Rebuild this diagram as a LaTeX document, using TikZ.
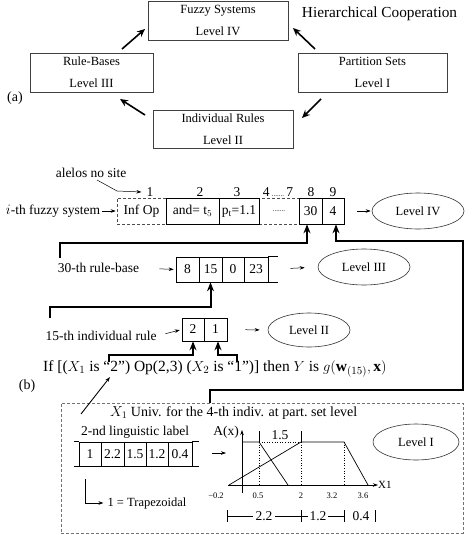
\documentclass[tikz,border=0pt]{standalone}
\usepackage{fontspec}
\setmainfont{Liberation Serif}
\usetikzlibrary{arrows.meta,shapes.geometric,calc}
\begin{document}
\begin{tikzpicture}[x=1pt,y=-1pt,
  lvbox/.style={draw=black!75, line width=0.8pt, minimum width=#1, minimum height=39, align=center, inner sep=0, font=\fontsize{12.5}{22}\selectfont},
  bigarr/.style={-{Stealth[length=8pt,width=7pt]}, line width=1.6pt},
  conn/.style={-{Stealth[length=9pt,width=7pt]}, line width=2pt},
  smallarr/.style={-{Stealth[length=5pt,width=3.5pt]}, line width=0.5pt},
  cell/.style={draw, line width=0.6pt, minimum height=26, inner sep=0, font=\fontsize{13.5}{14}\selectfont},
  dcell/.style={cell, draw=black!70, dash pattern=on 3pt off 2pt},
  tcell/.style={draw, line width=0.6pt, minimum height=24, inner sep=0, font=\fontsize{13.5}{14}\selectfont},
  lvl/.style={ellipse, draw=black!80, line width=0.6pt, inner sep=0, font=\fontsize{12.5}{14}\selectfont},
  txt/.style={inner sep=0, font=\fontsize{13.5}{14}\selectfont},
  tick/.style={inner sep=0, font=\fontsize{8.5}{9}\selectfont},
  gline/.style={line width=0.7pt},
  dline/.style={line width=0.6pt, dotted}
]
\useasboundingbox (0,0) rectangle (474,535);

% ---------- (a) ----------
\node[lvbox=140] (FS) at (218,20.5) {Fuzzy Systems\\Level IV};
\node[lvbox=123] (RB) at (91.5,72.5) {Rule-Bases\\Level III};
\node[lvbox=149] (PS) at (372.5,72.5) {Partition Sets\\Level I};
\node[lvbox=140, minimum height=38] (IR) at (223,129) {Individual Rules\\Level II};
\node[txt, font=\fontsize{15.3}{16}\selectfont] (HC) at (379.5,14) {Hierarchical Cooperation};
\node[txt, font=\fontsize{14}{14}\selectfont] (la) at (15,98) {(a)};

\coordinate (a1s) at (122,49); \coordinate (a1e) at (145,29);
\coordinate (a2s) at (315,49); \coordinate (a2e) at (293,28);
\coordinate (a3s) at (321,99); \coordinate (a3e) at (302,118);
\coordinate (a4s) at (145,115); \coordinate (a4e) at (120,99);
\draw[bigarr] (a1s) -- (a1e);
\draw[bigarr] (a2s) -- (a2e);
\draw[bigarr] (a3s) -- (a3e);
\draw[bigarr] (a4s) -- (a4e);

% ---------- row: i-th fuzzy system ----------
\node[txt] (alel) at (91,173) {alelos no site};
\node[dcell, minimum width=49] (c1) at (141.5,211) {Inf Op};
\node[dcell, minimum width=40] (c4) at (279,211) {\fontsize{7}{7}\selectfont .......};
\node[cell, minimum width=53] (c2) at (192.5,211) {and= t$_5$};
\node[cell, minimum width=40] (c3) at (239,211) {p$_{\rm t}$=1.1};
\node[cell, minimum width=23] (c8) at (310.5,211) {30};
\node[cell, minimum width=22] (c9) at (333,211) {4};
\node[txt] (n1) at (150,192) {1};
\node[txt] (n2) at (200,192) {2};
\node[txt] (n3) at (237,192) {3};
\node[txt] (n4) at (278,192) {4\,{\fontsize{7}{7}\selectfont .......}\,7};
\node[txt] (n8) at (311,192) {8};
\node[txt] (n9) at (333,192) {9};
\node[txt] (ith) at (53,211) {$i$-th fuzzy system};
\node[lvl, minimum width=92, minimum height=36] (L4) at (418,211) {Level IV};

\coordinate (al0) at (97,180); \coordinate (al1) at (117,191);
\draw[smallarr] (al0) -- (al1) -- ($(n1.west)+(-5,0)$);
\draw[smallarr, shorten <=2pt, shorten >=1pt] (ith.east) -- (c1.west);
\draw[smallarr, shorten <=13pt, shorten >=1pt] (c9.east) -- (L4.west);

% ---------- row: rule base ----------
\node[tcell, minimum width=23, minimum height=25] (r1) at (187.5,269.5) {8};
\node[tcell, minimum width=23, minimum height=25] (r2) at (210.5,269.5) {15};
\node[tcell, minimum width=22, minimum height=25] (r3) at (233,269.5) {0};
\node[tcell, minimum width=24, minimum height=25] (r4) at (256,269.5) {23};
\draw[line width=0.6pt] (r4.north east) -- ++(10,0);
\draw[line width=0.6pt] (r4.south east) -- ++(10,0);
\node[txt] (rb30) at (98.5,268) {30-th rule-base};
\node[lvl, minimum width=92, minimum height=36] (L3) at (364,267) {Level III};
\draw[smallarr, shorten <=20pt, shorten >=2pt] (rb30.east) -- (r1.west);
\draw[smallarr, shorten <=22pt, shorten >=13pt] (r4.east) -- (L3.west);

% ---------- row: individual rule ----------
\node[tcell, minimum width=22, minimum height=23] (s1) at (193,329.5) {2};
\node[tcell, minimum width=23, minimum height=23] (s2) at (215.5,329.5) {1};
\node[txt] (ir15) at (101,336) {15-th individual rule};
\node[lvl, minimum width=82, minimum height=34] (L2) at (309,330) {Level II};
\draw[smallarr, shorten <=9pt, shorten >=2pt] (ir15.east) -- (s1.west);
\draw[smallarr, shorten <=18pt, shorten >=8pt] (s2.east) -- (L2.west);

\node[txt, font=\fontsize{15.5}{16}\selectfont, anchor=west] (form) at (43,369)
  {If [($X_1$ is “2”) Op(2,3) ($X_2$ is “1”)] then $Y$ is $g(\mathbf{w}_{(15)},\mathbf{x})$};
\node[txt, font=\fontsize{14}{14}\selectfont] (lb) at (27,386) {(b)};

% ---------- thick connectors ----------
\coordinate (k30) at (60,258);
\draw[conn] (k30) |- ($(c8.south)+(-3.5,19)$) -- ($(c8.south)+(-3.5,0)$);
\coordinate (kb) at (210,403);
\draw[conn] (kb) |- (463,390) |- ($(c9.south)+(3,17)$) -- ($(c9.south)+(3,0)$);
\coordinate (k15) at (50,318);
\draw[conn] (k15) |- ($(r2.south)+(0,25)$) -- (r2.south);
\coordinate (kf2) at (109,362);
\draw[conn] (kf2) |- ($(s1.south)+(0,14)$) -- (s1.south);
\coordinate (kf1) at (237,362);
\draw[conn] (kf1) |- ($(s2.south)+(2.5,14)$) -- ($(s2.south)+(2.5,0)$);

% ---------- Level I box ----------
\node[draw=black!55, dash pattern=on 3pt off 2pt, line width=0.7pt, minimum width=402, minimum height=130, inner sep=0] (LB) at (262,468) {};
\coordinate (dg1) at (81,414); \coordinate (dg2) at (110,377);
\draw[smallarr, line width=0.9pt] (dg1) -- (dg2);
\node[txt, font=\fontsize{14}{15}\selectfont, anchor=west] (univ) at (110,413) {$X_1$ Univ. for the 4-th indiv. at part.\ set level};
\node[txt] (ling) at (135,432) {2-nd linguistic label};

\node[tcell, minimum width=22] (t1) at (90,454) {1};
\node[tcell, minimum width=23] (t2) at (112.5,454) {2.2};
\node[tcell, minimum width=22] (t3) at (135,454) {1.5};
\node[tcell, minimum width=22] (t4) at (157,454) {1.2};
\node[tcell, minimum width=24] (t5) at (180,454) {0.4};
\draw[line width=0.6pt] (t1.north west) -- ++(-5,0);
\draw[line width=0.6pt] (t1.south west) -- ++(-5,0);
\draw[line width=0.6pt] (t5.north east) -- ++(7,0);
\draw[line width=0.6pt] (t5.south east) -- ++(7,0);

\node[txt, font=\fontsize{12.5}{14}\selectfont] (trap) at (147,503) {1 = Trapezoidal};
\coordinate (tz0) at (85,479);
\draw[smallarr, shorten >=4pt] (tz0) |- (trap.west);

\coordinate (ga0) at (212,453); \coordinate (ga1) at (226,453);
\draw[smallarr] (ga0) -- (ga1);

% graph
\draw[gline, -{Stealth[length=5pt,width=3.5pt]}] (242,493) -- (242,430);
\draw[gline, -{Stealth[length=5pt,width=3.5pt]}] (228,485) -- (378,485);
\node[tick, font=\fontsize{11}{12}\selectfont, anchor=west] (X1) at (378,485) {X1};
\node[txt] (Ax) at (226,432) {A(x)};
\draw[gline] (242,442) -- (259,442) -- (288,485);
\draw[gline] (229,485) -- (301,442) -- (344,442) -- (368,485);
\draw[dline] (259,442) -- (301,442);
\draw[dline] (259,442) -- (259,485);
\draw[dline] (301,442) -- (301,485);
\draw[dline] (344,442) -- (344,485);
\draw[gline] (259,431) -- (259,442);
\draw[gline] (301,431) -- (301,442);
\node[txt] (v15) at (280,435) {1.5};
\node[tick] (tm02) at (216,496) {−0.2};
\node[tick] (t05) at (258,496) {0.5};
\node[tick] (t2v) at (301,496) {2};
\node[tick] (t32) at (332,496) {3.2};
\node[tick] (t36) at (363,496) {3.6};
% dimension line
\draw[gline] (227,516) -- (344,516);
\foreach \xx in {227,301,344,375} \draw[gline] (\xx,510) -- (\xx,522);
\node[txt, fill=white, inner xsep=3pt] (d22) at (264,516) {2.2};
\node[txt, fill=white, inner xsep=2pt] (d12) at (318,516) {1.2};
\node[txt] (d04) at (361,516) {0.4};

\node[lvl, minimum width=86, minimum height=36] (L1) at (416,442) {Level I};
\end{tikzpicture}
\end{document}
